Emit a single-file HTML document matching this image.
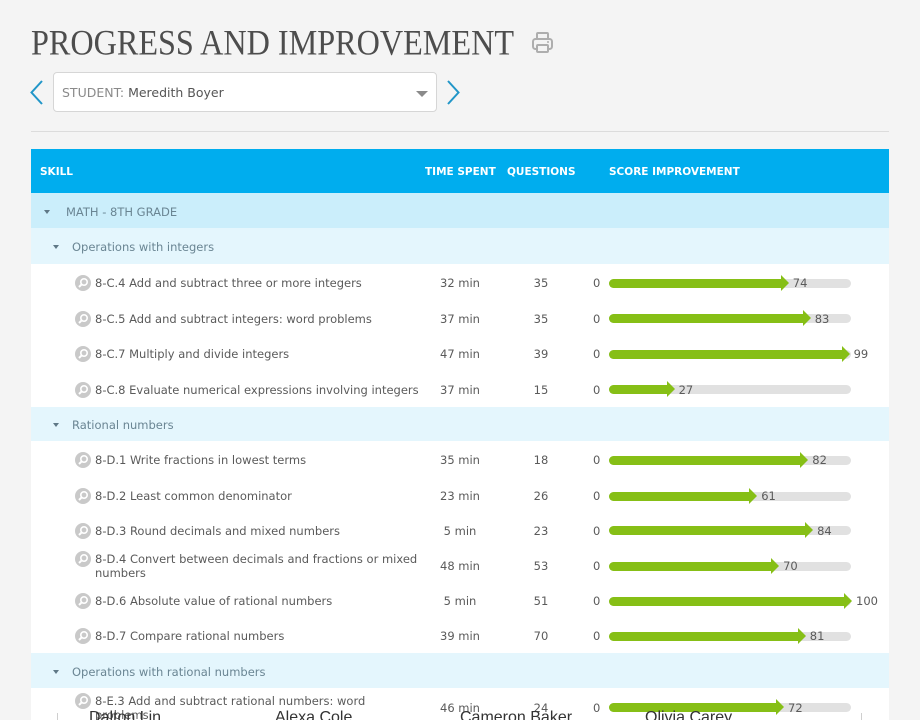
<!DOCTYPE html>
<html><head><meta charset="utf-8">
<style>
html,body{margin:0;padding:0;width:920px;height:720px;overflow:hidden}
body{background:#f4f4f4;position:relative;font-family:"DejaVu Sans","Liberation Sans",sans-serif;}
.r{position:absolute;left:31px;width:858px;background:#fff}
.c{position:absolute;top:50%;transform:translateY(-50%);white-space:nowrap;font-size:11.5px;color:#5a5a5a;line-height:14px}
.d .c{transform:translateY(calc(-50% + 1px))}
.hd{background:#00adee}
.hd .c{color:#fff;font-weight:bold;font-size:10.5px;transform:translateY(calc(-50% + 1px))}
.g1{background:#cbeefb}
.g2{background:#e4f6fd}
.g .c{color:#6a8593;transform:translateY(calc(-50% + 1px))}
.tri{position:absolute;top:50%;margin-top:-1px;width:0;height:0;border-left:3.5px solid transparent;border-right:3.5px solid transparent;border-top:4.5px solid #5f7886}
.ic{position:absolute;top:50%;margin-top:-7px;left:44px;width:16px;height:16px}
.tm{left:389px;width:80px;text-align:center}
.q{left:480px;width:60px;text-align:center}
.z{left:562px}
.trk{position:absolute;top:50%;margin-top:-3.5px;left:578px;width:242px;height:9px;border-radius:4.5px;background:#e1e1e1}
.sh{position:absolute;top:50%;margin-top:-3.5px;left:578px;height:9px;border-radius:4.5px 0 0 4.5px;background:#86bf16}
.hh{position:absolute;top:50%;margin-top:-7.5px;width:0;height:0;border-top:8.5px solid transparent;border-bottom:8.5px solid transparent;border-left:8px solid #86bf16}
.nm{position:absolute;top:708px;font-family:"Liberation Sans",sans-serif;font-size:16px;color:#333;line-height:20px;white-space:nowrap}
</style></head><body>

<svg style="position:absolute;left:0;top:0" width="920" height="140">
  <text x="31" y="54.5" font-family="Liberation Serif, serif" font-size="36" fill="#4d4d4d" textLength="483" lengthAdjust="spacingAndGlyphs">PROGRESS AND IMPROVEMENT</text>
  <g fill="none" stroke="#aeaeae" stroke-width="2">
    <rect x="537" y="33" width="11" height="6" rx="1"/>
    <rect x="533" y="39" width="19" height="10" rx="2.5"/>
    <rect x="537" y="45" width="11" height="7" rx="1" fill="#f4f4f4"/>
  </g>
  <circle cx="548" cy="42" r="1" fill="#aeaeae"/>
  <polyline points="42,81 31.5,92.5 42,104" fill="none" stroke="#2196c8" stroke-width="2"/>
  <polyline points="448,81 458.5,92.5 448,104" fill="none" stroke="#2196c8" stroke-width="2"/>
  <line x1="31" y1="131.5" x2="889" y2="131.5" stroke="#dcdcdc" stroke-width="1"/>
</svg>

<div style="position:absolute;left:53px;top:72px;width:382px;height:38px;background:#fff;border:1px solid #d6d6d6;border-radius:4px;">
  <div style="position:absolute;left:8px;top:12px;font-size:12.5px;line-height:16px;white-space:nowrap"><span style="color:#8a8a8a">STUDENT:</span> <span style="color:#555">Meredith Boyer</span></div>
  <div style="position:absolute;left:362px;top:18px;width:0;height:0;border-left:6.5px solid transparent;border-right:6.5px solid transparent;border-top:6px solid #8a8a8a"></div>
</div>

<div class="r hd" style="top:149px;height:44px">
  <div class="c" style="left:9px">SKILL</div>
  <div class="c" style="left:394px">TIME SPENT</div>
  <div class="c" style="left:476px">QUESTIONS</div>
  <div class="c" style="left:578px">SCORE IMPROVEMENT</div>
</div>

<div class="r g g1" style="top:193px;height:35px">
  <div class="tri" style="left:13px"></div>
  <div class="c" style="left:35px">MATH - 8TH GRADE</div>
</div>
<div class="r g g2" style="top:228px;height:36px">
  <div class="tri" style="left:22px"></div>
  <div class="c" style="left:41px">Operations with integers</div>
</div>

<div class="r d" style="top:264px;height:36px">
  <svg class="ic" viewBox="0 0 16 16"><circle cx="8" cy="8" r="8" fill="#c9c9c9"/><circle cx="9" cy="7" r="3.2" fill="none" stroke="#fff" stroke-width="1.6"/><line x1="6.8" y1="9.2" x2="4" y2="12" stroke="#fff" stroke-width="2"/></svg>
  <div class="c" style="left:64px">8-C.4 Add and subtract three or more integers</div>
  <div class="c tm">32 min</div><div class="c q">35</div><div class="c z">0</div>
  <div class="trk"></div><div class="sh" style="width:172.8px"></div><div class="hh" style="left:749.8px"></div>
  <div class="c" style="left:761.8px">74</div>
</div>
<div class="r d" style="top:300px;height:35px">
  <svg class="ic" viewBox="0 0 16 16"><circle cx="8" cy="8" r="8" fill="#c9c9c9"/><circle cx="9" cy="7" r="3.2" fill="none" stroke="#fff" stroke-width="1.6"/><line x1="6.8" y1="9.2" x2="4" y2="12" stroke="#fff" stroke-width="2"/></svg>
  <div class="c" style="left:64px">8-C.5 Add and subtract integers: word problems</div>
  <div class="c tm">37 min</div><div class="c q">35</div><div class="c z">0</div>
  <div class="trk"></div><div class="sh" style="width:194.7px"></div><div class="hh" style="left:771.7px"></div>
  <div class="c" style="left:783.7px">83</div>
</div>
<div class="r d" style="top:335px;height:36px">
  <svg class="ic" viewBox="0 0 16 16"><circle cx="8" cy="8" r="8" fill="#c9c9c9"/><circle cx="9" cy="7" r="3.2" fill="none" stroke="#fff" stroke-width="1.6"/><line x1="6.8" y1="9.2" x2="4" y2="12" stroke="#fff" stroke-width="2"/></svg>
  <div class="c" style="left:64px">8-C.7 Multiply and divide integers</div>
  <div class="c tm">47 min</div><div class="c q">39</div><div class="c z">0</div>
  <div class="trk"></div><div class="sh" style="width:233.6px"></div><div class="hh" style="left:810.6px"></div>
  <div class="c" style="left:822.6px">99</div>
</div>
<div class="r d" style="top:371px;height:35.8px">
  <svg class="ic" viewBox="0 0 16 16"><circle cx="8" cy="8" r="8" fill="#c9c9c9"/><circle cx="9" cy="7" r="3.2" fill="none" stroke="#fff" stroke-width="1.6"/><line x1="6.8" y1="9.2" x2="4" y2="12" stroke="#fff" stroke-width="2"/></svg>
  <div class="c" style="left:64px">8-C.8 Evaluate numerical expressions involving integers</div>
  <div class="c tm">37 min</div><div class="c q">15</div><div class="c z">0</div>
  <div class="trk"></div><div class="sh" style="width:58.6px"></div><div class="hh" style="left:635.6px"></div>
  <div class="c" style="left:647.6px">27</div>
</div>

<div class="r g g2" style="top:406.8px;height:34px">
  <div class="tri" style="left:22px"></div>
  <div class="c" style="left:41px">Rational numbers</div>
</div>

<div class="r d" style="top:440.8px;height:37px">
  <svg class="ic" viewBox="0 0 16 16"><circle cx="8" cy="8" r="8" fill="#c9c9c9"/><circle cx="9" cy="7" r="3.2" fill="none" stroke="#fff" stroke-width="1.6"/><line x1="6.8" y1="9.2" x2="4" y2="12" stroke="#fff" stroke-width="2"/></svg>
  <div class="c" style="left:64px">8-D.1 Write fractions in lowest terms</div>
  <div class="c tm">35 min</div><div class="c q">18</div><div class="c z">0</div>
  <div class="trk"></div><div class="sh" style="width:192.3px"></div><div class="hh" style="left:769.3px"></div>
  <div class="c" style="left:781.3px">82</div>
</div>
<div class="r d" style="top:477.8px;height:34.6px">
  <svg class="ic" viewBox="0 0 16 16"><circle cx="8" cy="8" r="8" fill="#c9c9c9"/><circle cx="9" cy="7" r="3.2" fill="none" stroke="#fff" stroke-width="1.6"/><line x1="6.8" y1="9.2" x2="4" y2="12" stroke="#fff" stroke-width="2"/></svg>
  <div class="c" style="left:64px">8-D.2 Least common denominator</div>
  <div class="c tm">23 min</div><div class="c q">26</div><div class="c z">0</div>
  <div class="trk"></div><div class="sh" style="width:141.2px"></div><div class="hh" style="left:718.2px"></div>
  <div class="c" style="left:730.2px">61</div>
</div>
<div class="r d" style="top:512.4px;height:35.2px">
  <svg class="ic" viewBox="0 0 16 16"><circle cx="8" cy="8" r="8" fill="#c9c9c9"/><circle cx="9" cy="7" r="3.2" fill="none" stroke="#fff" stroke-width="1.6"/><line x1="6.8" y1="9.2" x2="4" y2="12" stroke="#fff" stroke-width="2"/></svg>
  <div class="c" style="left:64px">8-D.3 Round decimals and mixed numbers</div>
  <div class="c tm">5 min</div><div class="c q">23</div><div class="c z">0</div>
  <div class="trk"></div><div class="sh" style="width:197.1px"></div><div class="hh" style="left:774.1px"></div>
  <div class="c" style="left:786.1px">84</div>
</div>
<div class="r d" style="top:547.6px;height:35px">
  <svg class="ic" viewBox="0 0 16 16" style="margin-top:-14px"><circle cx="8" cy="8" r="8" fill="#c9c9c9"/><circle cx="9" cy="7" r="3.2" fill="none" stroke="#fff" stroke-width="1.6"/><line x1="6.8" y1="9.2" x2="4" y2="12" stroke="#fff" stroke-width="2"/></svg>
  <div class="c" style="left:64px">8-D.4 Convert between decimals and fractions or mixed<br>numbers</div>
  <div class="c tm">48 min</div><div class="c q">53</div><div class="c z">0</div>
  <div class="trk"></div><div class="sh" style="width:163.1px"></div><div class="hh" style="left:740.1px"></div>
  <div class="c" style="left:752.1px">70</div>
</div>
<div class="r d" style="top:582.6px;height:35px">
  <svg class="ic" viewBox="0 0 16 16"><circle cx="8" cy="8" r="8" fill="#c9c9c9"/><circle cx="9" cy="7" r="3.2" fill="none" stroke="#fff" stroke-width="1.6"/><line x1="6.8" y1="9.2" x2="4" y2="12" stroke="#fff" stroke-width="2"/></svg>
  <div class="c" style="left:64px">8-D.6 Absolute value of rational numbers</div>
  <div class="c tm">5 min</div><div class="c q">51</div><div class="c z">0</div>
  <div class="trk"></div><div class="sh" style="width:236px"></div><div class="hh" style="left:813px"></div>
  <div class="c" style="left:825px">100</div>
</div>
<div class="r d" style="top:617.6px;height:35.6px">
  <svg class="ic" viewBox="0 0 16 16"><circle cx="8" cy="8" r="8" fill="#c9c9c9"/><circle cx="9" cy="7" r="3.2" fill="none" stroke="#fff" stroke-width="1.6"/><line x1="6.8" y1="9.2" x2="4" y2="12" stroke="#fff" stroke-width="2"/></svg>
  <div class="c" style="left:64px">8-D.7 Compare rational numbers</div>
  <div class="c tm">39 min</div><div class="c q">70</div><div class="c z">0</div>
  <div class="trk"></div><div class="sh" style="width:189.8px"></div><div class="hh" style="left:766.8px"></div>
  <div class="c" style="left:778.8px">81</div>
</div>

<div class="r g g2" style="top:653.2px;height:35px">
  <div class="tri" style="left:22px"></div>
  <div class="c" style="left:41px">Operations with rational numbers</div>
</div>

<div class="r d" style="top:688.2px;height:37.6px">
  <svg class="ic" viewBox="0 0 16 16" style="margin-top:-14px"><circle cx="8" cy="8" r="8" fill="#c9c9c9"/><circle cx="9" cy="7" r="3.2" fill="none" stroke="#fff" stroke-width="1.6"/><line x1="6.8" y1="9.2" x2="4" y2="12" stroke="#fff" stroke-width="2"/></svg>
  <div class="c" style="left:64px">8-E.3 Add and subtract rational numbers: word<br>problems</div>
  <div class="c tm">46 min</div><div class="c q">24</div><div class="c z">0</div>
  <div class="trk"></div><div class="sh" style="width:168px"></div><div class="hh" style="left:745px"></div>
  <div class="c" style="left:757px">72</div>
</div>

<div style="position:absolute;left:57px;top:713px;width:1px;height:7px;background:#cfcfcf"></div>
<div style="position:absolute;left:861px;top:713px;width:1px;height:7px;background:#cfcfcf"></div>
<div class="nm" style="left:89px">Dalton Lin</div>
<div class="nm" style="left:275px">Alexa Cole</div>
<div class="nm" style="left:460px">Cameron Baker</div>
<div class="nm" style="left:645px">Olivia Carey</div>

</body></html>
